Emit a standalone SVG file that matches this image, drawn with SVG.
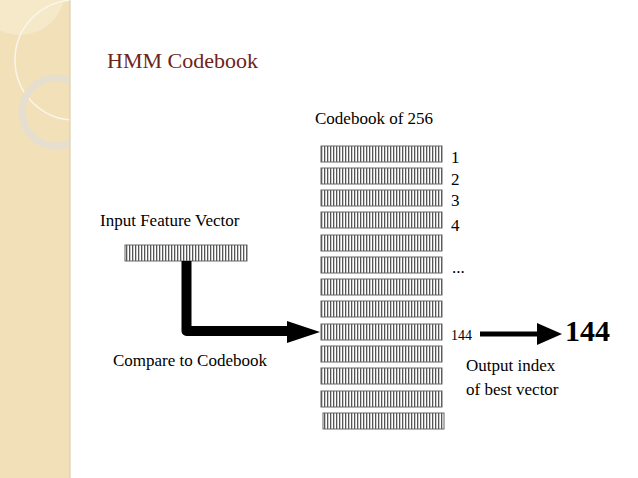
<svg xmlns="http://www.w3.org/2000/svg" width="638" height="478" viewBox="0 0 638 478">
<defs>
<pattern id="st" width="3" height="10" patternUnits="userSpaceOnUse"><rect width="3" height="10" fill="#fff"/><rect x="0" width="1.3" height="10" fill="#555"/></pattern>
<clipPath id="side"><rect width="70" height="478"/></clipPath>
</defs>
<style>
.t{font-family:"Liberation Serif",serif;fill:#000}
.r{fill:url(#st);stroke:#666;stroke-width:1}
</style>
<rect width="638" height="478" fill="#fff"/>
<g clip-path="url(#side)">
<rect width="70" height="478" fill="#f1e0b8"/>
<circle cx="20" cy="-10" r="45" fill="#f7ecd2" opacity="0.7"/>
<circle cx="75" cy="60" r="60" fill="none" stroke="#fbf6ea" stroke-width="1.5"/>
<circle cx="56" cy="112" r="34" fill="none" stroke="#e6dfd0" stroke-width="7"/>
</g>
<line x1="70" y1="0" x2="70" y2="478" stroke="#d8c9a4" stroke-width="1"/>
<text class="t" x="107" y="68" font-size="22" style="fill:#6e2417">HMM Codebook</text>
<text class="t" x="315" y="124" font-size="17">Codebook of 256</text>
<g id="codebook">
<rect class="r" x="321" y="146" width="121" height="16"/>
<rect class="r" x="321" y="168" width="121" height="16"/>
<rect class="r" x="321" y="190" width="121" height="16"/>
<rect class="r" x="321" y="212" width="121" height="16"/>
<rect class="r" x="321" y="235" width="121" height="16"/>
<rect class="r" x="321" y="257" width="121" height="16"/>
<rect class="r" x="321" y="279" width="121" height="16"/>
<rect class="r" x="321" y="301" width="121" height="16"/>
<rect class="r" x="321" y="324" width="121" height="16"/>
<rect class="r" x="321" y="346" width="121" height="16"/>
<rect class="r" x="321" y="368" width="121" height="16"/>
<rect class="r" x="321" y="391" width="121" height="16"/>
<rect class="r" x="323" y="413" width="121" height="16"/>
</g>
<g class="t" font-size="17">
<text x="451" y="163">1</text>
<text x="451" y="185">2</text>
<text x="451" y="206">3</text>
<text x="451" y="231">4</text>
<text x="452" y="273">...</text>
</g>
<g id="input">
<text class="t" x="100" y="226" font-size="17">Input Feature Vector</text>
<rect class="r" x="125" y="245" width="122" height="16"/>
</g>
<g id="connectors">
<path d="M186.5 261 V331 H290" fill="none" stroke="#000" stroke-width="10" stroke-linejoin="round"/>
<polygon points="287,321 320,332 287,343" fill="#000"/>
<line x1="480" y1="334" x2="540" y2="334" stroke="#000" stroke-width="5"/>
<polygon points="537,323 562,334 537,345" fill="#000"/>
</g>
<text class="t" x="113" y="366" font-size="17">Compare to Codebook</text>
<text class="t" x="451" y="340" font-size="14">144</text>
<text class="t" x="565" y="341" font-size="30" font-weight="bold">144</text>
<text class="t" x="466" y="371" font-size="17">Output index</text>
<text class="t" x="466" y="395" font-size="17">of best vector</text>
</svg>
